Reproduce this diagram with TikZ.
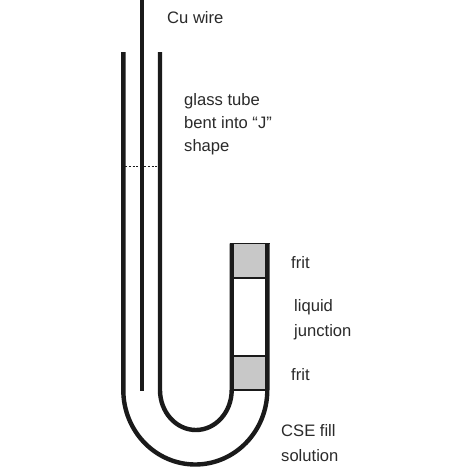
\documentclass[tikz,border=0pt]{standalone}
\usepackage{fontspec}
\setmainfont{Liberation Sans}
\definecolor{ink}{HTML}{1A1A1A}
\definecolor{fritgray}{HTML}{C8C8C8}
\definecolor{txt}{HTML}{2A2A2A}
\tikzset{
  glass/.style={draw=ink,line width=4.4pt},
  wire/.style={draw=ink,line width=4pt},
  thin rule/.style={draw=ink,line width=1.4pt},
  label/.style={text=txt,font=\fontsize{16.6}{23}\selectfont,anchor=west,inner sep=0pt,align=left},
  label wide/.style={label,font=\fontsize{16.6}{25}\selectfont},
}
\begin{document}
\begin{tikzpicture}[x=1pt,y=-1pt]
\useasboundingbox (0,0) rectangle (474,474);
\fill[white] (0,0) rectangle (474,474);
% frits
\fill[fritgray] (231.7,243.5) rectangle (267.3,278);
\fill[fritgray] (231.7,356) rectangle (267.3,390);
% tube
\draw[glass] (123.3,52) -- (123.3,390) arc[start angle=180,end angle=0,x radius=72,y radius=74.5] -- (267.3,243.5);
\draw[glass] (160,52) -- (160,390) arc[start angle=180,end angle=0,x radius=35.85,y radius=40] -- (231.7,243.5);
% wire
\draw[wire] (141.5,0) -- (141.5,391);
% rules
\draw[thin rule] (229.5,243.5) -- (269.5,243.5);
\draw[thin rule] (231.7,278) -- (267.3,278);
\draw[thin rule] (231.7,356) -- (267.3,356);
\draw[thin rule] (231.7,390) -- (267.3,390);
% level
\draw[ink,line width=1.4pt,dash pattern=on 2pt off 1.8pt] (125,166.5) -- (158,166.5);
% labels
\node[label] (cu) at (167,18) {Cu wire};
\node[label] (tube) at (184,124) {glass tube\\bent into “J”\\shape};
\node[label] (f1) at (291,263) {frit};
\node[label wide] (lj) at (294,319.5) {liquid\\junction};
\node[label] (f2) at (291,375) {frit};
\node[label wide] (cse) at (281,443.5) {CSE fill\\solution};
\end{tikzpicture}
\end{document}
